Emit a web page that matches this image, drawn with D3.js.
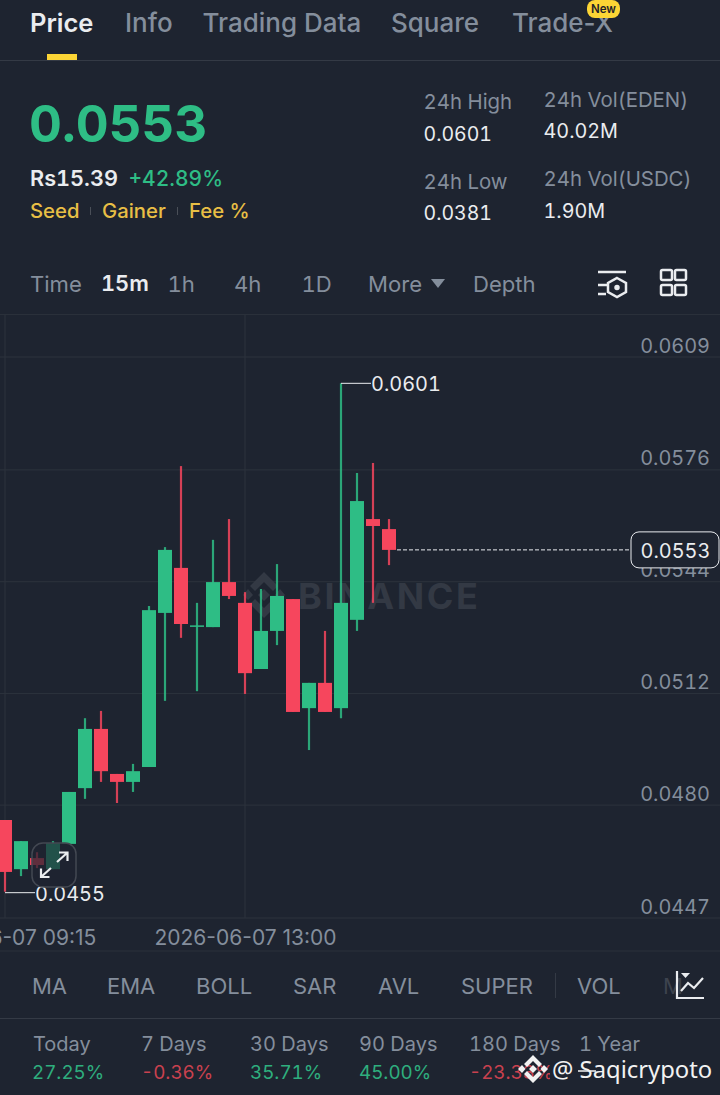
<!DOCTYPE html>
<html>
<head>
<meta charset="utf-8">
<script src="https://cdn.jsdelivr.net/npm/d3@7/dist/d3.min.js"></script>
<style>
  html, body { margin: 0; padding: 0; background: #1e2430; }
  svg { display: block; font-family: Inter, "Noto Sans", sans-serif; font-variant-numeric: tabular-nums; }
</style>
</head>
<body>
<div id="chart"></div>
<script>
// data
const times = ['09:15', '09:30', '09:45', '10:00', '10:15', '10:30', '10:45', '11:00', '11:15', '11:30',
  '11:45', '12:00', '12:15', '12:30', '12:45', '13:00', '13:15', '13:30', '13:45', '14:00',
  '14:15', '14:30', '14:45', '15:00', '15:15']
const opens = [0.04753, 0.04611, 0.04643, 0.04611, 0.04684, 0.04845, 0.05016, 0.04886, 0.04863, 0.04906,
  0.05351, 0.05481, 0.05313, 0.0531, 0.0544, 0.0538, 0.05189, 0.05299, 0.05391, 0.05076,
  0.05149, 0.05076, 0.05331, 0.05622, 0.05593]
const closes = [0.04603, 0.04692, 0.04623, 0.04686, 0.04834, 0.05016, 0.04894, 0.04863, 0.04894, 0.05359,
  0.05533, 0.05319, 0.05315, 0.0544, 0.054, 0.05177, 0.05299, 0.054, 0.05065, 0.05149,
  0.05065, 0.0538, 0.05674, 0.05602, 0.05533]
const highs = [0.04753, 0.04692, 0.0466, 0.04692, 0.04834, 0.05047, 0.05068, 0.04886, 0.04915, 0.05371,
  0.05541, 0.05775, 0.0538, 0.05562, 0.05622, 0.05411, 0.0542, 0.05492, 0.05391, 0.05149,
  0.05299, 0.06014, 0.05755, 0.05784, 0.05622]
const lows = [0.04546, 0.04591, 0.04614, 0.04611, 0.04684, 0.04814, 0.04863, 0.04802, 0.04834, 0.04906,
  0.05097, 0.05279, 0.05125, 0.0531, 0.05391, 0.05117, 0.05189, 0.05258, 0.05065, 0.04955,
  0.05065, 0.05047, 0.05299, 0.0538, 0.05489]
const priceTicks = [0.0609, 0.05764, 0.05441, 0.05118, 0.04796, 0.0447]
const timeTicks = ['09:15', '13:00']
const lastPrice = 0.05533

const tabs = ['Info', 'Trading Data', 'Square', 'Trade-X']
const intervals = ['Time', '1h', '4h', '1D', 'More', 'Depth']
const indicators = ['MA', 'EMA', 'BOLL', 'SAR', 'AVL', 'SUPER', 'VOL']
const periods = ['Today', '7 Days', '30 Days', '90 Days', '180 Days', '1 Year']
const changes = [27.25, -0.36, 35.71, 45.0, -23.33]

// colours
const bg = '#1e2430'
const green = '#2ebd85'
const red = '#f6465d'
const grey = '#848e9c'
const white = '#eaecef'
const yellow = '#e8bf45'
const gridColor = '#2d333d'

// format
const price = d3.format('.4f')

// scale
const y = d3.scaleLinear().domain([0.0609, 0.0447]).range([357, 918])
const x = d3.scalePoint().domain(times).range([5, 389])
const bodyWidth = 14

const svg = d3.select('#chart').append('svg').attr('width', 720).attr('height', 1095)
svg.append('rect').attr('width', 720).attr('height', 1095).attr('fill', bg)

function label(px, py, str, size, fill, weight, anchor) {
  return svg.append('text')
    .attr('x', px).attr('y', py)
    .attr('font-size', size)
    .attr('fill', fill)
    .attr('font-weight', weight || 400)
    .attr('text-anchor', anchor || 'start')
    .text(str)
}

function hline(py, color) {
  svg.append('line').attr('x1', 0).attr('x2', 720).attr('y1', py).attr('y2', py).attr('stroke', color).attr('stroke-width', 1)
}

// top tabs
label(30, 32, 'Price', 25.5, white, 600)
const tabX = [125, 202.5, 391, 512]
tabs.forEach((t, i) => label(tabX[i], 32, t, 26, grey, 500).style('font-variant-numeric', 'normal'))
svg.append('rect').attr('x', 587).attr('y', 0).attr('width', 33).attr('height', 18).attr('rx', 8).attr('fill', '#fcd535')
label(603.5, 13, 'New', 11.5, '#1e2329', 600, 'middle')
svg.append('rect').attr('x', 47).attr('y', 54).attr('width', 30).attr('height', 6).attr('fill', '#fcd535')
hline(60.5, '#343a45')

// price block
label(29, 142, '0.0553', 51, green, 700)
label(30, 186, 'Rs15.39', 21.7, white, 600)
label(128.5, 186, '+42.89%', 21, green, 500)
label(30, 218, 'Seed', 20.3, yellow, 500)
label(102, 218, 'Gainer', 20.3, yellow, 500)
label(189, 218, 'Fee %', 20.3, yellow, 500)
;[90.5, 177.5].forEach(px => svg.append('line').attr('x1', px).attr('x2', px).attr('y1', 207).attr('y2', 215).attr('stroke', '#4a4f58'))

// 24h stats
label(423.5, 109, '24h High', 20.4, grey)
label(423.5, 141, '0.0601', 19.5, white)
label(423.5, 189, '24h Low', 20.4, grey)
label(423.5, 220, '0.0381', 19.5, white)
label(543.5, 107, '24h Vol(EDEN)', 20.4, grey)
label(543.5, 138, '40.02M', 19.8, white)
label(543.5, 186, '24h Vol(USDC)', 20.4, grey)
label(543.5, 218, '1.90M', 19.8, white)

// interval row
const intervalX = [30, 167.5, 234, 301.5, 368, 473]
intervals.forEach((t, i) => label(intervalX[i], 292, t, 22.1, grey))
label(101, 291, '15m', 21.8, white, 600)
svg.append('path').attr('d', 'M431 279h14l-7 9z').attr('fill', grey)

// settings icon
const icons = svg.append('g').attr('fill', 'none').attr('stroke', white).attr('stroke-width', 2.5)
icons.append('path').attr('d', 'M598 272h28M598 285h10M598 294h8M617 278l9 5v9l-9 5l-9 -5v-9z')
icons.append('circle').attr('cx', 617).attr('cy', 287.5).attr('r', 1.5).attr('fill', white)
;[[661, 270], [675, 270], [661, 285], [675, 285]].forEach(p =>
  icons.append('rect').attr('x', p[0]).attr('y', p[1]).attr('width', 11).attr('height', 10).attr('rx', 1.5))

hline(314.5, '#2a303a')

// grid
const plot = svg.append('g')
plot.selectAll('line.h').data(priceTicks).join('line')
  .attr('class', 'h')
  .attr('x1', 0).attr('x2', 720)
  .attr('y1', d => y(d)).attr('y2', d => y(d))
  .attr('stroke', gridColor)
plot.selectAll('line.v').data(timeTicks).join('line')
  .attr('class', 'v')
  .attr('x1', d => x(d)).attr('x2', d => x(d))
  .attr('y1', 315).attr('y2', 918)
  .attr('stroke', gridColor)

// watermark
const mark = svg.append('g').attr('fill', '#333944')
mark.append('path').attr('d', 'M264 572l14 14l-5 5l-9 -9l-9 9l-5 -5zM264 589l6 6l-6 6l-6 -6zM248 589l5 6l-5 5l-5 -5zM280 589l5 6l-5 5l-5 -5zM264 618l-14 -14l5 -5l9 9l9 -9l5 5z')
mark.append('text').attr('x', 298).attr('y', 609).attr('font-size', 36).attr('font-weight', 700).attr('letter-spacing', 2.6).text('BINANCE')

// candles
const candles = svg.append('g')
times.forEach((t, i) => {
  const up = closes[i] >= opens[i]
  const c = up ? green : red
  candles.append('line')
    .attr('x1', x(t)).attr('x2', x(t))
    .attr('y1', y(highs[i])).attr('y2', y(lows[i]))
    .attr('stroke', c).attr('stroke-width', 2.2).attr('opacity', 0.85)
  const top = y(Math.max(opens[i], closes[i]))
  const bottom = y(Math.min(opens[i], closes[i]))
  candles.append('rect')
    .attr('x', x(t) - bodyWidth / 2)
    .attr('y', top)
    .attr('width', bodyWidth)
    .attr('height', Math.max(bottom - top, 1.5))
    .attr('fill', c)
})

// high and low callouts
const hi = d3.max(highs)
const lo = d3.min(lows)
const hiX = x(times[highs.indexOf(hi)])
const loX = x(times[lows.indexOf(lo)])
svg.append('line').attr('x1', hiX).attr('x2', hiX + 30).attr('y1', y(hi)).attr('y2', y(hi)).attr('stroke', white)
label(hiX + 30, y(hi) + 8, price(hi), 19.9, white)
svg.append('line').attr('x1', loX).attr('x2', loX + 30).attr('y1', y(lo) + 1).attr('y2', y(lo) + 1).attr('stroke', white)
label(loX + 30, y(lo) + 9, price(lo), 19.9, white)

// expand button
svg.append('rect').attr('x', 32).attr('y', 843).attr('width', 44).attr('height', 44).attr('rx', 11)
  .attr('fill', bg).attr('fill-opacity', 0.7).attr('stroke', '#434852').attr('stroke-width', 1.5)
svg.append('path').attr('d', 'M57 862L67 853M59 852.500h8.500v8.500M41 877L51 868M41 868.500v8.500h8.500')
  .attr('fill', 'none').attr('stroke', white).attr('stroke-width', 2.2)

// price axis
const yAxis = svg.append('g')
  .attr('transform', 'translate(710, 0)')
  .call(d3.axisLeft(y).tickValues(priceTicks).tickSize(0).tickFormat(price))
yAxis.select('.domain').remove()
yAxis.selectAll('text')
  .attr('x', 0)
  .attr('dy', -5)
  .attr('font-size', 19.9)
  .attr('font-family', 'Inter, "Noto Sans", sans-serif')
  .attr('fill', grey)

// last price line
svg.append('line').attr('x1', x(times[times.length - 1]) + 8).attr('x2', 631)
  .attr('y1', y(lastPrice)).attr('y2', y(lastPrice))
  .attr('stroke', white).attr('stroke-dasharray', '4 2')
svg.append('rect').attr('x', 631).attr('y', y(lastPrice) - 18).attr('width', 88).attr('height', 36).attr('rx', 8)
  .attr('fill', bg).attr('stroke', white)
label(675.5, y(lastPrice) + 8, price(lastPrice), 19.9, white, 400, 'middle')

// time axis
const xAxis = svg.append('g')
  .attr('transform', 'translate(0, 918)')
  .call(d3.axisBottom(x).tickValues(timeTicks).tickSize(0).tickFormat(d => `2026-06-07 ${d}`))
xAxis.select('.domain').remove()
xAxis.selectAll('text')
  .attr('y', 27)
  .attr('dy', 0)
  .attr('font-size', 21)
  .attr('font-family', 'Inter, "Noto Sans", sans-serif')
  .attr('fill', grey)
  .style('font-variant-numeric', 'normal')

hline(951, '#2a303a')

// indicators
const indicatorX = [32, 107, 196, 293, 378, 461, 577]
indicators.forEach((t, i) => label(indicatorX[i], 994, t, 22, grey))
label(663, 994, 'M', 22, '#3d434e')
svg.append('line').attr('x1', 555.5).attr('x2', 555.5).attr('y1', 973).attr('y2', 998).attr('stroke', '#343a45')
const chartIcon = svg.append('g').attr('fill', 'none').attr('stroke', white).attr('stroke-width', 2.2)
chartIcon.append('path').attr('d', 'M677 971v27h27M681 991l7 -8l6 5l9 -10')
svg.append('path').attr('d', 'M681 973h9l-4.500 5z').attr('fill', white)

hline(1018.5, '#343a45')

// period returns
const periodX = [33, 141, 250, 359, 469, 579]
periods.forEach((t, i) => label(periodX[i], 1051, t, 20, grey))
changes.forEach((v, i) => label(periodX[i] - (i === 0 ? 1 : 0), 1079, `${v.toFixed(2)}%`, 18.8, v >= 0 ? '#2eae7e' : '#c9414f'))

// watermark bottom right
const stamp = svg.append('g').attr('fill', '#f2f2f2')
stamp.append('path').attr('d', 'M533 1055l9 9l-3 3l-6 -6l-6 6l-3 -3zM533 1065l4 4l-4 4l-4 -4zM522 1065l3.500 4l-3.500 4l-4 -4zM544 1065l4 4l-4 4l-3.500 -4zM533 1083l-9 -9l3 -3l6 6l6 -6l3 3z')
svg.append('rect').attr('x', 550).attr('y', 1056).attr('width', 170).attr('height', 28).attr('fill', bg)
label(552, 1078, '@ Saqicrypoto', 23.8, '#f2f2f2', 400).attr('font-family', '"Noto Sans", sans-serif')
svg.append('line').attr('x1', 578).attr('x2', 596).attr('y1', 1071).attr('y2', 1071).attr('stroke', '#f2f2f2').attr('stroke-width', 1.5)
</script>
</body>
</html>
